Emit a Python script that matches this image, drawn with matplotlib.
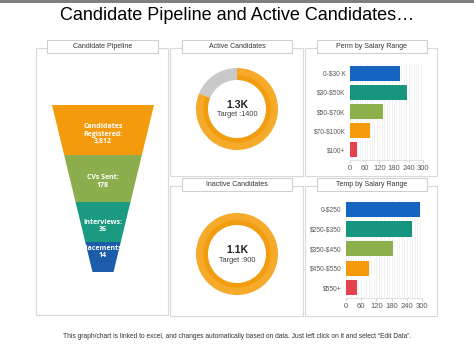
import matplotlib
matplotlib.use("Agg")
import matplotlib.pyplot as plt
from matplotlib.patches import Rectangle, Polygon
import numpy as np

plt.rcParams['font.family'] = ['Liberation Sans', 'DejaVu Sans']
plt.rcParams['text.parse_math'] = False

# ---------------- data ----------------
title = "Candidate Pipeline and Active Candidates\u2026"
footer = ("This graph/chart is linked to excel, and changes automatically based on data. "
          "Just left click on it and select \u201cEdit Data\u201d.")

funnel_labels = ["Candidates\nRegistered:", "CVs Sent:", "Interviews:", "Placements:"]
funnel_values = [3812, 178, 36, 14]

active_value = 1300
active_rest = 300
active_target = 1400

inactive_value = 1100
inactive_rest = 0
inactive_target = 900

perm_ranges = ["0-$30 K", "$30-$50K", "$50-$70K", "$70-$100K", "$100+"]
perm_counts = [205, 235, 134, 82, 30]

temp_ranges = ["0-$250", "$250-$350", "$350-$450", "$450-$550", "$550+"]
temp_counts = [290, 258, 187, 93, 43]

x_ticks = [0, 60, 120, 180, 240, 300]

# ---------------- styles ----------------
W, H = 474, 355
bar_colors = ["#1565C0", "#16967F", "#8DB04C", "#F59B0B", "#E5414E"]
funnel_colors = ["#F39B0C", "#8DAE4F", "#1B9A82", "#1C5CAA"]
ring_outer = "#F6AA2A"
ring_inner = "#F29D10"
ring_gray = "#C9C9C9"
frame_col = "#D9D9D9"
text_gray = "#595959"

fig = plt.figure(figsize=(W / 100, H / 100), dpi=100)
bg = fig.add_axes([0, 0, 1, 1])
bg.set_xlim(0, W)
bg.set_ylim(H, 0)
bg.axis('off')


def rect_fig(x0, y0, x1, y1):
    return [x0 / W, 1 - y1 / H, (x1 - x0) / W, (y1 - y0) / H]


# top bar
bg.add_patch(Rectangle((0, 0), W, 2.5, color="#7F7F7F", lw=0))
bg.text(237, 15.5, title, ha='center', va='center', fontsize=13, color='#000000')
bg.text(237, 336, footer, ha='center', va='center', fontsize=4.75, color='#333333')

panels = [
    ((36, 48, 168, 315), (47, 40, 158, 53), "Candidate Pipeline"),
    ((170, 48, 303, 176), (182, 40, 292, 53), "Active Candidates"),
    ((170, 186, 303, 316), (182, 178, 292, 191), "Inactive Candidates"),
    ((305, 48, 437, 176), (317, 40, 427, 53), "Perm by Salary Range"),
    ((305, 186, 437, 316), (317, 178, 427, 191), "Temp by Salary Range"),
]
for (x0, y0, x1, y1), (hx0, hy0, hx1, hy1), lab in panels:
    bg.add_patch(Rectangle((x0, y0), x1 - x0, y1 - y0, fill=False,
                           edgecolor=frame_col, lw=0.8, zorder=1))
    bg.add_patch(Rectangle((hx0, hy0), hx1 - hx0, hy1 - hy0, facecolor='white',
                           edgecolor="#CFCFCF", lw=0.8, zorder=2))
    bg.text((hx0 + hx1) / 2, (hy0 + hy1) / 2, lab, ha='center', va='center',
            fontsize=5, color='#333333', zorder=3)

# ---------------- funnel ----------------
f_cx, f_top, f_bot = 103, 105, 272
f_wtop, f_wbot = 102, 21
seg_heights = [50, 47, 40, 30]


def half_w(y):
    t = (y - f_top) / (f_bot - f_top)
    return (f_wtop + (f_wbot - f_wtop) * t) / 2


y = f_top
label_offsets = [4, 3, 4, -5]
for lab, val, h, col, off in zip(funnel_labels, funnel_values, seg_heights, funnel_colors, label_offsets):
    ya, yb = y, y + h
    poly = Polygon([(f_cx - half_w(ya), ya), (f_cx + half_w(ya), ya),
                    (f_cx + half_w(yb), yb), (f_cx - half_w(yb), yb)],
                   closed=True, facecolor=col, edgecolor='none', zorder=2)
    bg.add_patch(poly)
    bg.text(f_cx, (ya + yb) / 2 + off, f"{lab}\n{val:,}", ha='center', va='center',
            fontsize=5, color='white', fontweight='bold', family=['Open Sans', 'DejaVu Sans'],
            linespacing=1.15, zorder=3)
    y = yb


# ---------------- donuts ----------------
def donut(cx, cy, value, rest, target):
    size = 92
    ax = fig.add_axes(rect_fig(cx - size / 2, cy - size / 2, cx + size / 2, cy + size / 2))
    vals = [value, rest] if rest > 0 else [value]
    cols_o = [ring_outer, ring_gray][:len(vals)]
    cols_i = [ring_inner, ring_gray][:len(vals)]
    ax.pie(vals, radius=41, colors=cols_o, startangle=90, counterclock=False,
           wedgeprops=dict(width=7.5, edgecolor='none'))
    ax.pie(vals, radius=34, colors=cols_i, startangle=90, counterclock=False,
           wedgeprops=dict(width=5, edgecolor='none'))
    ax.set_xlim(-size / 2, size / 2)
    ax.set_ylim(-size / 2, size / 2)
    ax.set_aspect('equal')
    ax.axis('off')
    bg.text(cx, cy - 4, f"{value / 1000:.1f}K", ha='center', va='center',
            fontsize=7.5, fontweight='bold', color='#222222')
    bg.text(cx, cy + 6, f"Target :{target}", ha='center', va='center',
            fontsize=5.3, color='#404040')


donut(237, 109, active_value, active_rest, active_target)
donut(237, 254, inactive_value, inactive_rest, inactive_target)


# ---------------- bar charts ----------------
def bars(box, cats, vals):
    ax = fig.add_axes(rect_fig(*box))
    pos = np.arange(len(cats))
    ax.barh(pos, vals, height=0.78, color=bar_colors, zorder=2)
    ax.set_ylim(len(cats) - 0.5, -0.5)
    ax.set_xlim(0, 300)
    ax.set_xticks(x_ticks)
    ax.set_xticks(np.arange(0, 301, 10), minor=True)
    ax.grid(axis='x', which='both', color='#EEEEEE', lw=0.5, zorder=0)
    ax.set_yticks(pos)
    ax.set_yticklabels(cats)
    ax.tick_params(axis='y', length=0, labelsize=4.8, labelcolor=text_gray, pad=3)
    ax.tick_params(axis='x', which='major', length=2, color='#D9D9D9', labelsize=5.5,
                   labelcolor=text_gray, pad=2)
    ax.tick_params(axis='x', which='minor', length=0)
    for s in ['top', 'right', 'left']:
        ax.spines[s].set_visible(False)
    ax.spines['bottom'].set_color('#D9D9D9')
    ax.spines['bottom'].set_linewidth(0.6)
    ax.set_facecolor('white')


bars((350, 63.6, 423.3, 159.5), perm_ranges, perm_counts)
bars((345.7, 199.5, 422.3, 297.6), temp_ranges, temp_counts)

fig.savefig("out.png", dpi=100, facecolor='white')
